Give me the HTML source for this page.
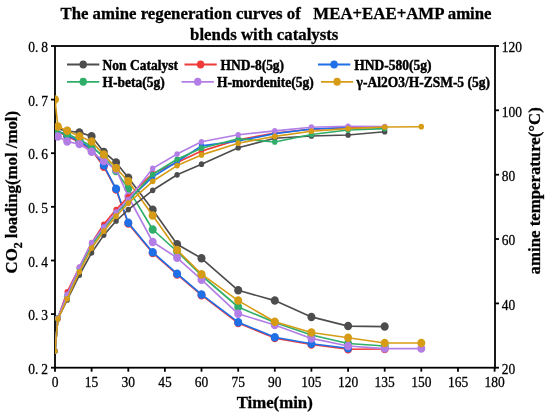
<!DOCTYPE html>
<html><head><meta charset="utf-8"><title>Amine regeneration curves</title>
<style>html,body{margin:0;padding:0;background:#fff;width:550px;height:417px;overflow:hidden}svg{display:block}</style>
</head><body>
<svg width="550" height="417" viewBox="0 0 550 417">
<defs><clipPath id="pc"><rect x="55.0" y="46.0" width="439.6" height="321.7"/></clipPath></defs>
<rect width="550" height="417" fill="#fff"/>
<g stroke="#000" stroke-width="1.8" fill="none">
<rect x="55.0" y="46.0" width="440.0" height="321.7"/>
<line x1="55.0" y1="367.7" x2="55.0" y2="371.7"/>
<line x1="91.6" y1="367.7" x2="91.6" y2="371.7"/>
<line x1="128.3" y1="367.7" x2="128.3" y2="371.7"/>
<line x1="164.9" y1="367.7" x2="164.9" y2="371.7"/>
<line x1="201.5" y1="367.7" x2="201.5" y2="371.7"/>
<line x1="238.2" y1="367.7" x2="238.2" y2="371.7"/>
<line x1="274.8" y1="367.7" x2="274.8" y2="371.7"/>
<line x1="311.4" y1="367.7" x2="311.4" y2="371.7"/>
<line x1="348.1" y1="367.7" x2="348.1" y2="371.7"/>
<line x1="384.7" y1="367.7" x2="384.7" y2="371.7"/>
<line x1="421.3" y1="367.7" x2="421.3" y2="371.7"/>
<line x1="458.0" y1="367.7" x2="458.0" y2="371.7"/>
<line x1="494.6" y1="367.7" x2="494.6" y2="371.7"/>
<line x1="51.0" y1="367.7" x2="55.0" y2="367.7"/>
<line x1="51.0" y1="314.1" x2="55.0" y2="314.1"/>
<line x1="51.0" y1="260.5" x2="55.0" y2="260.5"/>
<line x1="51.0" y1="206.8" x2="55.0" y2="206.8"/>
<line x1="51.0" y1="153.2" x2="55.0" y2="153.2"/>
<line x1="51.0" y1="99.6" x2="55.0" y2="99.6"/>
<line x1="51.0" y1="46.0" x2="55.0" y2="46.0"/>
<line x1="495.0" y1="367.7" x2="499.0" y2="367.7"/>
<line x1="495.0" y1="303.4" x2="499.0" y2="303.4"/>
<line x1="495.0" y1="239.0" x2="499.0" y2="239.0"/>
<line x1="495.0" y1="174.7" x2="499.0" y2="174.7"/>
<line x1="495.0" y1="110.3" x2="499.0" y2="110.3"/>
<line x1="495.0" y1="46.0" x2="499.0" y2="46.0"/>
</g>
<g clip-path="url(#pc)">
<polyline points="55.0,128.5 67.2,131.0 79.4,132.4 91.6,136.2 103.8,152.0 116.1,162.4 128.3,177.8 152.7,209.8 177.1,244.2 201.5,258.3 238.2,290.3 274.8,300.6 311.4,316.9 348.1,326.1 384.7,326.6" fill="none" stroke="#4d4d4d" stroke-width="1.65" stroke-linejoin="round"/>
<ellipse cx="55.0" cy="128.5" rx="4.0" ry="4.24" fill="#4d4d4d"/>
<ellipse cx="67.2" cy="131.0" rx="4.0" ry="4.24" fill="#4d4d4d"/>
<ellipse cx="79.4" cy="132.4" rx="4.0" ry="4.24" fill="#4d4d4d"/>
<ellipse cx="91.6" cy="136.2" rx="4.0" ry="4.24" fill="#4d4d4d"/>
<ellipse cx="103.8" cy="152.0" rx="4.0" ry="4.24" fill="#4d4d4d"/>
<ellipse cx="116.1" cy="162.4" rx="4.0" ry="4.24" fill="#4d4d4d"/>
<ellipse cx="128.3" cy="177.8" rx="4.0" ry="4.24" fill="#4d4d4d"/>
<ellipse cx="152.7" cy="209.8" rx="4.0" ry="4.24" fill="#4d4d4d"/>
<ellipse cx="177.1" cy="244.2" rx="4.0" ry="4.24" fill="#4d4d4d"/>
<ellipse cx="201.5" cy="258.3" rx="4.0" ry="4.24" fill="#4d4d4d"/>
<ellipse cx="238.2" cy="290.3" rx="4.0" ry="4.24" fill="#4d4d4d"/>
<ellipse cx="274.8" cy="300.6" rx="4.0" ry="4.24" fill="#4d4d4d"/>
<ellipse cx="311.4" cy="316.9" rx="4.0" ry="4.24" fill="#4d4d4d"/>
<ellipse cx="348.1" cy="326.1" rx="4.0" ry="4.24" fill="#4d4d4d"/>
<ellipse cx="384.7" cy="326.6" rx="4.0" ry="4.24" fill="#4d4d4d"/>
<polyline points="55.0,130.0 67.2,136.5 79.4,142.0 91.6,150.0 103.8,166.7 116.1,189.6 128.3,223.6 152.7,253.0 177.1,274.5 201.5,295.2 238.2,323.0 274.8,338.1 311.4,344.5 348.1,349.2 384.7,349.0" fill="none" stroke="#f03a3a" stroke-width="1.65" stroke-linejoin="round"/>
<ellipse cx="55.0" cy="130.0" rx="4.0" ry="4.24" fill="#f03a3a"/>
<ellipse cx="67.2" cy="136.5" rx="4.0" ry="4.24" fill="#f03a3a"/>
<ellipse cx="79.4" cy="142.0" rx="4.0" ry="4.24" fill="#f03a3a"/>
<ellipse cx="91.6" cy="150.0" rx="4.0" ry="4.24" fill="#f03a3a"/>
<ellipse cx="103.8" cy="166.7" rx="4.0" ry="4.24" fill="#f03a3a"/>
<ellipse cx="116.1" cy="189.6" rx="4.0" ry="4.24" fill="#f03a3a"/>
<ellipse cx="128.3" cy="223.6" rx="4.0" ry="4.24" fill="#f03a3a"/>
<ellipse cx="152.7" cy="253.0" rx="4.0" ry="4.24" fill="#f03a3a"/>
<ellipse cx="177.1" cy="274.5" rx="4.0" ry="4.24" fill="#f03a3a"/>
<ellipse cx="201.5" cy="295.2" rx="4.0" ry="4.24" fill="#f03a3a"/>
<ellipse cx="238.2" cy="323.0" rx="4.0" ry="4.24" fill="#f03a3a"/>
<ellipse cx="274.8" cy="338.1" rx="4.0" ry="4.24" fill="#f03a3a"/>
<ellipse cx="311.4" cy="344.5" rx="4.0" ry="4.24" fill="#f03a3a"/>
<ellipse cx="348.1" cy="349.2" rx="4.0" ry="4.24" fill="#f03a3a"/>
<ellipse cx="384.7" cy="349.0" rx="4.0" ry="4.24" fill="#f03a3a"/>
<polyline points="55.0,129.5 67.2,135.5 79.4,141.0 91.6,149.0 103.8,165.3 116.1,188.8 128.3,222.8 152.7,252.2 177.1,273.7 201.5,294.4 238.2,322.2 274.8,337.3 311.4,343.7 348.1,348.2" fill="none" stroke="#1f6fe6" stroke-width="1.65" stroke-linejoin="round"/>
<ellipse cx="55.0" cy="129.5" rx="4.0" ry="4.24" fill="#1f6fe6"/>
<ellipse cx="67.2" cy="135.5" rx="4.0" ry="4.24" fill="#1f6fe6"/>
<ellipse cx="79.4" cy="141.0" rx="4.0" ry="4.24" fill="#1f6fe6"/>
<ellipse cx="91.6" cy="149.0" rx="4.0" ry="4.24" fill="#1f6fe6"/>
<ellipse cx="103.8" cy="165.3" rx="4.0" ry="4.24" fill="#1f6fe6"/>
<ellipse cx="116.1" cy="188.8" rx="4.0" ry="4.24" fill="#1f6fe6"/>
<ellipse cx="128.3" cy="222.8" rx="4.0" ry="4.24" fill="#1f6fe6"/>
<ellipse cx="152.7" cy="252.2" rx="4.0" ry="4.24" fill="#1f6fe6"/>
<ellipse cx="177.1" cy="273.7" rx="4.0" ry="4.24" fill="#1f6fe6"/>
<ellipse cx="201.5" cy="294.4" rx="4.0" ry="4.24" fill="#1f6fe6"/>
<ellipse cx="238.2" cy="322.2" rx="4.0" ry="4.24" fill="#1f6fe6"/>
<ellipse cx="274.8" cy="337.3" rx="4.0" ry="4.24" fill="#1f6fe6"/>
<ellipse cx="311.4" cy="343.7" rx="4.0" ry="4.24" fill="#1f6fe6"/>
<ellipse cx="348.1" cy="348.2" rx="4.0" ry="4.24" fill="#1f6fe6"/>
<polyline points="55.0,131.5 67.2,134.0 79.4,139.5 91.6,146.5 103.8,157.0 116.1,171.0 128.3,188.8 152.7,229.5 177.1,251.5 201.5,275.5 238.2,307.0 274.8,322.5 311.4,335.0 348.1,343.5 384.7,346.0" fill="none" stroke="#2eae68" stroke-width="1.65" stroke-linejoin="round"/>
<ellipse cx="55.0" cy="131.5" rx="4.0" ry="4.24" fill="#2eae68"/>
<ellipse cx="67.2" cy="134.0" rx="4.0" ry="4.24" fill="#2eae68"/>
<ellipse cx="79.4" cy="139.5" rx="4.0" ry="4.24" fill="#2eae68"/>
<ellipse cx="91.6" cy="146.5" rx="4.0" ry="4.24" fill="#2eae68"/>
<ellipse cx="103.8" cy="157.0" rx="4.0" ry="4.24" fill="#2eae68"/>
<ellipse cx="116.1" cy="171.0" rx="4.0" ry="4.24" fill="#2eae68"/>
<ellipse cx="128.3" cy="188.8" rx="4.0" ry="4.24" fill="#2eae68"/>
<ellipse cx="152.7" cy="229.5" rx="4.0" ry="4.24" fill="#2eae68"/>
<ellipse cx="177.1" cy="251.5" rx="4.0" ry="4.24" fill="#2eae68"/>
<ellipse cx="201.5" cy="275.5" rx="4.0" ry="4.24" fill="#2eae68"/>
<ellipse cx="238.2" cy="307.0" rx="4.0" ry="4.24" fill="#2eae68"/>
<ellipse cx="274.8" cy="322.5" rx="4.0" ry="4.24" fill="#2eae68"/>
<ellipse cx="311.4" cy="335.0" rx="4.0" ry="4.24" fill="#2eae68"/>
<ellipse cx="348.1" cy="343.5" rx="4.0" ry="4.24" fill="#2eae68"/>
<ellipse cx="384.7" cy="346.0" rx="4.0" ry="4.24" fill="#2eae68"/>
<polyline points="57.9,136.5 67.2,141.6 79.4,144.0 91.6,151.7 103.8,161.0 116.1,169.5 128.3,196.5 152.7,242.0 177.1,257.8 201.5,279.7 238.2,313.8 274.8,325.0 311.4,338.4 348.1,346.0 384.7,348.6 421.3,348.6" fill="none" stroke="#b27ee6" stroke-width="1.65" stroke-linejoin="round"/>
<ellipse cx="57.9" cy="136.5" rx="4.0" ry="4.24" fill="#b27ee6"/>
<ellipse cx="67.2" cy="141.6" rx="4.0" ry="4.24" fill="#b27ee6"/>
<ellipse cx="79.4" cy="144.0" rx="4.0" ry="4.24" fill="#b27ee6"/>
<ellipse cx="91.6" cy="151.7" rx="4.0" ry="4.24" fill="#b27ee6"/>
<ellipse cx="103.8" cy="161.0" rx="4.0" ry="4.24" fill="#b27ee6"/>
<ellipse cx="116.1" cy="169.5" rx="4.0" ry="4.24" fill="#b27ee6"/>
<ellipse cx="128.3" cy="196.5" rx="4.0" ry="4.24" fill="#b27ee6"/>
<ellipse cx="152.7" cy="242.0" rx="4.0" ry="4.24" fill="#b27ee6"/>
<ellipse cx="177.1" cy="257.8" rx="4.0" ry="4.24" fill="#b27ee6"/>
<ellipse cx="201.5" cy="279.7" rx="4.0" ry="4.24" fill="#b27ee6"/>
<ellipse cx="238.2" cy="313.8" rx="4.0" ry="4.24" fill="#b27ee6"/>
<ellipse cx="274.8" cy="325.0" rx="4.0" ry="4.24" fill="#b27ee6"/>
<ellipse cx="311.4" cy="338.4" rx="4.0" ry="4.24" fill="#b27ee6"/>
<ellipse cx="348.1" cy="346.0" rx="4.0" ry="4.24" fill="#b27ee6"/>
<ellipse cx="384.7" cy="348.6" rx="4.0" ry="4.24" fill="#b27ee6"/>
<ellipse cx="421.3" cy="348.6" rx="4.0" ry="4.24" fill="#b27ee6"/>
<polyline points="55.0,99.6 57.9,126.5 67.2,130.7 79.4,136.2 91.6,141.6 103.8,154.6 116.1,168.0 128.3,181.3 152.7,215.5 177.1,250.0 201.5,274.2 238.2,300.6 274.8,321.8 311.4,332.5 348.1,337.7 384.7,343.0 421.3,343.0" fill="none" stroke="#d69c16" stroke-width="1.65" stroke-linejoin="round"/>
<ellipse cx="55.0" cy="99.6" rx="4.0" ry="4.24" fill="#d69c16"/>
<ellipse cx="57.9" cy="126.5" rx="4.0" ry="4.24" fill="#d69c16"/>
<ellipse cx="67.2" cy="130.7" rx="4.0" ry="4.24" fill="#d69c16"/>
<ellipse cx="79.4" cy="136.2" rx="4.0" ry="4.24" fill="#d69c16"/>
<ellipse cx="91.6" cy="141.6" rx="4.0" ry="4.24" fill="#d69c16"/>
<ellipse cx="103.8" cy="154.6" rx="4.0" ry="4.24" fill="#d69c16"/>
<ellipse cx="116.1" cy="168.0" rx="4.0" ry="4.24" fill="#d69c16"/>
<ellipse cx="128.3" cy="181.3" rx="4.0" ry="4.24" fill="#d69c16"/>
<ellipse cx="152.7" cy="215.5" rx="4.0" ry="4.24" fill="#d69c16"/>
<ellipse cx="177.1" cy="250.0" rx="4.0" ry="4.24" fill="#d69c16"/>
<ellipse cx="201.5" cy="274.2" rx="4.0" ry="4.24" fill="#d69c16"/>
<ellipse cx="238.2" cy="300.6" rx="4.0" ry="4.24" fill="#d69c16"/>
<ellipse cx="274.8" cy="321.8" rx="4.0" ry="4.24" fill="#d69c16"/>
<ellipse cx="311.4" cy="332.5" rx="4.0" ry="4.24" fill="#d69c16"/>
<ellipse cx="348.1" cy="337.7" rx="4.0" ry="4.24" fill="#d69c16"/>
<ellipse cx="384.7" cy="343.0" rx="4.0" ry="4.24" fill="#d69c16"/>
<ellipse cx="421.3" cy="343.0" rx="4.0" ry="4.24" fill="#d69c16"/>
<polyline points="55.0,351.0 57.9,319.0 67.2,300.0 79.4,275.1 91.6,252.8 103.8,235.1 116.1,221.0 128.3,209.6 152.7,190.3 177.1,174.8 201.5,164.2 238.2,147.7 274.8,138.2 311.4,136.0 348.1,135.0 384.7,131.7" fill="none" stroke="#4d4d4d" stroke-width="1.65" stroke-linejoin="round"/>
<ellipse cx="55.0" cy="351.0" rx="2.7" ry="2.86" fill="#4d4d4d"/>
<ellipse cx="57.9" cy="319.0" rx="2.7" ry="2.86" fill="#4d4d4d"/>
<ellipse cx="67.2" cy="300.0" rx="2.7" ry="2.86" fill="#4d4d4d"/>
<ellipse cx="79.4" cy="275.1" rx="2.7" ry="2.86" fill="#4d4d4d"/>
<ellipse cx="91.6" cy="252.8" rx="2.7" ry="2.86" fill="#4d4d4d"/>
<ellipse cx="103.8" cy="235.1" rx="2.7" ry="2.86" fill="#4d4d4d"/>
<ellipse cx="116.1" cy="221.0" rx="2.7" ry="2.86" fill="#4d4d4d"/>
<ellipse cx="128.3" cy="209.6" rx="2.7" ry="2.86" fill="#4d4d4d"/>
<ellipse cx="152.7" cy="190.3" rx="2.7" ry="2.86" fill="#4d4d4d"/>
<ellipse cx="177.1" cy="174.8" rx="2.7" ry="2.86" fill="#4d4d4d"/>
<ellipse cx="201.5" cy="164.2" rx="2.7" ry="2.86" fill="#4d4d4d"/>
<ellipse cx="238.2" cy="147.7" rx="2.7" ry="2.86" fill="#4d4d4d"/>
<ellipse cx="274.8" cy="138.2" rx="2.7" ry="2.86" fill="#4d4d4d"/>
<ellipse cx="311.4" cy="136.0" rx="2.7" ry="2.86" fill="#4d4d4d"/>
<ellipse cx="348.1" cy="135.0" rx="2.7" ry="2.86" fill="#4d4d4d"/>
<ellipse cx="384.7" cy="131.7" rx="2.7" ry="2.86" fill="#4d4d4d"/>
<polyline points="55.0,351.0 57.9,318.0 67.2,291.8 79.4,267.3 91.6,242.9 103.8,224.3 116.1,209.5 128.3,196.8 152.7,173.5 177.1,162.5 201.5,151.1 238.2,139.8 274.8,133.0 311.4,129.3 348.1,127.8 384.7,127.5" fill="none" stroke="#f03a3a" stroke-width="1.65" stroke-linejoin="round"/>
<ellipse cx="55.0" cy="351.0" rx="2.7" ry="2.86" fill="#f03a3a"/>
<ellipse cx="57.9" cy="318.0" rx="2.7" ry="2.86" fill="#f03a3a"/>
<ellipse cx="67.2" cy="291.8" rx="2.7" ry="2.86" fill="#f03a3a"/>
<ellipse cx="79.4" cy="267.3" rx="2.7" ry="2.86" fill="#f03a3a"/>
<ellipse cx="91.6" cy="242.9" rx="2.7" ry="2.86" fill="#f03a3a"/>
<ellipse cx="103.8" cy="224.3" rx="2.7" ry="2.86" fill="#f03a3a"/>
<ellipse cx="116.1" cy="209.5" rx="2.7" ry="2.86" fill="#f03a3a"/>
<ellipse cx="128.3" cy="196.8" rx="2.7" ry="2.86" fill="#f03a3a"/>
<ellipse cx="152.7" cy="173.5" rx="2.7" ry="2.86" fill="#f03a3a"/>
<ellipse cx="177.1" cy="162.5" rx="2.7" ry="2.86" fill="#f03a3a"/>
<ellipse cx="201.5" cy="151.1" rx="2.7" ry="2.86" fill="#f03a3a"/>
<ellipse cx="238.2" cy="139.8" rx="2.7" ry="2.86" fill="#f03a3a"/>
<ellipse cx="274.8" cy="133.0" rx="2.7" ry="2.86" fill="#f03a3a"/>
<ellipse cx="311.4" cy="129.3" rx="2.7" ry="2.86" fill="#f03a3a"/>
<ellipse cx="348.1" cy="127.8" rx="2.7" ry="2.86" fill="#f03a3a"/>
<ellipse cx="384.7" cy="127.5" rx="2.7" ry="2.86" fill="#f03a3a"/>
<polyline points="55.0,351.0 57.9,318.0 67.2,295.0 79.4,268.0 91.6,244.0 103.8,227.0 116.1,212.5 128.3,200.0 152.7,176.8 177.1,161.7 201.5,145.9 238.2,141.0 274.8,133.6 311.4,129.0 348.1,127.5" fill="none" stroke="#1f6fe6" stroke-width="1.65" stroke-linejoin="round"/>
<ellipse cx="55.0" cy="351.0" rx="2.7" ry="2.86" fill="#1f6fe6"/>
<ellipse cx="57.9" cy="318.0" rx="2.7" ry="2.86" fill="#1f6fe6"/>
<ellipse cx="67.2" cy="295.0" rx="2.7" ry="2.86" fill="#1f6fe6"/>
<ellipse cx="79.4" cy="268.0" rx="2.7" ry="2.86" fill="#1f6fe6"/>
<ellipse cx="91.6" cy="244.0" rx="2.7" ry="2.86" fill="#1f6fe6"/>
<ellipse cx="103.8" cy="227.0" rx="2.7" ry="2.86" fill="#1f6fe6"/>
<ellipse cx="116.1" cy="212.5" rx="2.7" ry="2.86" fill="#1f6fe6"/>
<ellipse cx="128.3" cy="200.0" rx="2.7" ry="2.86" fill="#1f6fe6"/>
<ellipse cx="152.7" cy="176.8" rx="2.7" ry="2.86" fill="#1f6fe6"/>
<ellipse cx="177.1" cy="161.7" rx="2.7" ry="2.86" fill="#1f6fe6"/>
<ellipse cx="201.5" cy="145.9" rx="2.7" ry="2.86" fill="#1f6fe6"/>
<ellipse cx="238.2" cy="141.0" rx="2.7" ry="2.86" fill="#1f6fe6"/>
<ellipse cx="274.8" cy="133.6" rx="2.7" ry="2.86" fill="#1f6fe6"/>
<ellipse cx="311.4" cy="129.0" rx="2.7" ry="2.86" fill="#1f6fe6"/>
<ellipse cx="348.1" cy="127.5" rx="2.7" ry="2.86" fill="#1f6fe6"/>
<polyline points="55.0,351.0 57.9,318.0 67.2,296.0 79.4,269.0 91.6,245.0 103.8,229.0 116.1,213.5 128.3,201.0 152.7,174.3 177.1,159.3 201.5,148.2 238.2,138.8 274.8,142.0 311.4,134.5 348.1,130.0 384.7,128.6" fill="none" stroke="#2eae68" stroke-width="1.65" stroke-linejoin="round"/>
<ellipse cx="55.0" cy="351.0" rx="2.7" ry="2.86" fill="#2eae68"/>
<ellipse cx="57.9" cy="318.0" rx="2.7" ry="2.86" fill="#2eae68"/>
<ellipse cx="67.2" cy="296.0" rx="2.7" ry="2.86" fill="#2eae68"/>
<ellipse cx="79.4" cy="269.0" rx="2.7" ry="2.86" fill="#2eae68"/>
<ellipse cx="91.6" cy="245.0" rx="2.7" ry="2.86" fill="#2eae68"/>
<ellipse cx="103.8" cy="229.0" rx="2.7" ry="2.86" fill="#2eae68"/>
<ellipse cx="116.1" cy="213.5" rx="2.7" ry="2.86" fill="#2eae68"/>
<ellipse cx="128.3" cy="201.0" rx="2.7" ry="2.86" fill="#2eae68"/>
<ellipse cx="152.7" cy="174.3" rx="2.7" ry="2.86" fill="#2eae68"/>
<ellipse cx="177.1" cy="159.3" rx="2.7" ry="2.86" fill="#2eae68"/>
<ellipse cx="201.5" cy="148.2" rx="2.7" ry="2.86" fill="#2eae68"/>
<ellipse cx="238.2" cy="138.8" rx="2.7" ry="2.86" fill="#2eae68"/>
<ellipse cx="274.8" cy="142.0" rx="2.7" ry="2.86" fill="#2eae68"/>
<ellipse cx="311.4" cy="134.5" rx="2.7" ry="2.86" fill="#2eae68"/>
<ellipse cx="348.1" cy="130.0" rx="2.7" ry="2.86" fill="#2eae68"/>
<ellipse cx="384.7" cy="128.6" rx="2.7" ry="2.86" fill="#2eae68"/>
<polyline points="55.0,351.0 57.9,318.0 67.2,294.5 79.4,267.1 91.6,242.7 103.8,227.0 116.1,212.0 128.3,199.5 152.7,168.4 177.1,154.0 201.5,141.8 238.2,134.8 274.8,130.9 311.4,127.2 348.1,126.3 384.7,126.5" fill="none" stroke="#b27ee6" stroke-width="1.65" stroke-linejoin="round"/>
<ellipse cx="55.0" cy="351.0" rx="2.7" ry="2.86" fill="#b27ee6"/>
<ellipse cx="57.9" cy="318.0" rx="2.7" ry="2.86" fill="#b27ee6"/>
<ellipse cx="67.2" cy="294.5" rx="2.7" ry="2.86" fill="#b27ee6"/>
<ellipse cx="79.4" cy="267.1" rx="2.7" ry="2.86" fill="#b27ee6"/>
<ellipse cx="91.6" cy="242.7" rx="2.7" ry="2.86" fill="#b27ee6"/>
<ellipse cx="103.8" cy="227.0" rx="2.7" ry="2.86" fill="#b27ee6"/>
<ellipse cx="116.1" cy="212.0" rx="2.7" ry="2.86" fill="#b27ee6"/>
<ellipse cx="128.3" cy="199.5" rx="2.7" ry="2.86" fill="#b27ee6"/>
<ellipse cx="152.7" cy="168.4" rx="2.7" ry="2.86" fill="#b27ee6"/>
<ellipse cx="177.1" cy="154.0" rx="2.7" ry="2.86" fill="#b27ee6"/>
<ellipse cx="201.5" cy="141.8" rx="2.7" ry="2.86" fill="#b27ee6"/>
<ellipse cx="238.2" cy="134.8" rx="2.7" ry="2.86" fill="#b27ee6"/>
<ellipse cx="274.8" cy="130.9" rx="2.7" ry="2.86" fill="#b27ee6"/>
<ellipse cx="311.4" cy="127.2" rx="2.7" ry="2.86" fill="#b27ee6"/>
<ellipse cx="348.1" cy="126.3" rx="2.7" ry="2.86" fill="#b27ee6"/>
<ellipse cx="384.7" cy="126.5" rx="2.7" ry="2.86" fill="#b27ee6"/>
<polyline points="55.0,351.0 57.9,318.8 67.2,298.8 79.4,271.8 91.6,248.1 103.8,231.2 116.1,216.2 128.3,203.2 152.7,181.3 177.1,165.6 201.5,154.9 238.2,143.2 274.8,136.4 311.4,131.2 348.1,128.6 384.7,127.0 421.3,126.7" fill="none" stroke="#d69c16" stroke-width="1.65" stroke-linejoin="round"/>
<ellipse cx="55.0" cy="351.0" rx="2.7" ry="2.86" fill="#d69c16"/>
<ellipse cx="57.9" cy="318.8" rx="2.7" ry="2.86" fill="#d69c16"/>
<ellipse cx="67.2" cy="298.8" rx="2.7" ry="2.86" fill="#d69c16"/>
<ellipse cx="79.4" cy="271.8" rx="2.7" ry="2.86" fill="#d69c16"/>
<ellipse cx="91.6" cy="248.1" rx="2.7" ry="2.86" fill="#d69c16"/>
<ellipse cx="103.8" cy="231.2" rx="2.7" ry="2.86" fill="#d69c16"/>
<ellipse cx="116.1" cy="216.2" rx="2.7" ry="2.86" fill="#d69c16"/>
<ellipse cx="128.3" cy="203.2" rx="2.7" ry="2.86" fill="#d69c16"/>
<ellipse cx="152.7" cy="181.3" rx="2.7" ry="2.86" fill="#d69c16"/>
<ellipse cx="177.1" cy="165.6" rx="2.7" ry="2.86" fill="#d69c16"/>
<ellipse cx="201.5" cy="154.9" rx="2.7" ry="2.86" fill="#d69c16"/>
<ellipse cx="238.2" cy="143.2" rx="2.7" ry="2.86" fill="#d69c16"/>
<ellipse cx="274.8" cy="136.4" rx="2.7" ry="2.86" fill="#d69c16"/>
<ellipse cx="311.4" cy="131.2" rx="2.7" ry="2.86" fill="#d69c16"/>
<ellipse cx="348.1" cy="128.6" rx="2.7" ry="2.86" fill="#d69c16"/>
<ellipse cx="384.7" cy="127.0" rx="2.7" ry="2.86" fill="#d69c16"/>
<ellipse cx="421.3" cy="126.7" rx="2.7" ry="2.86" fill="#d69c16"/>
</g>
<g font-family="Liberation Serif, Times New Roman, serif" font-size="13.5" fill="#000" stroke="#000" stroke-width="0.25">
<text transform="translate(55.0,386.8) scale(1,1.15)" text-anchor="middle">0</text>
<text transform="translate(91.6,386.8) scale(1,1.15)" text-anchor="middle">15</text>
<text transform="translate(128.3,386.8) scale(1,1.15)" text-anchor="middle">30</text>
<text transform="translate(164.9,386.8) scale(1,1.15)" text-anchor="middle">45</text>
<text transform="translate(201.5,386.8) scale(1,1.15)" text-anchor="middle">60</text>
<text transform="translate(238.2,386.8) scale(1,1.15)" text-anchor="middle">75</text>
<text transform="translate(274.8,386.8) scale(1,1.15)" text-anchor="middle">90</text>
<text transform="translate(311.4,386.8) scale(1,1.15)" text-anchor="middle">105</text>
<text transform="translate(348.1,386.8) scale(1,1.15)" text-anchor="middle">120</text>
<text transform="translate(384.7,386.8) scale(1,1.15)" text-anchor="middle">135</text>
<text transform="translate(421.3,386.8) scale(1,1.15)" text-anchor="middle">150</text>
<text transform="translate(458.0,386.8) scale(1,1.15)" text-anchor="middle">165</text>
<text transform="translate(494.6,386.8) scale(1,1.15)" text-anchor="middle">180</text>
<text transform="translate(48,373.9) scale(1,1.15)" text-anchor="end">0.<tspan dx="3">2</tspan></text>
<text transform="translate(48,320.3) scale(1,1.15)" text-anchor="end">0.<tspan dx="3">3</tspan></text>
<text transform="translate(48,266.7) scale(1,1.15)" text-anchor="end">0.<tspan dx="3">4</tspan></text>
<text transform="translate(48,213.0) scale(1,1.15)" text-anchor="end">0.<tspan dx="3">5</tspan></text>
<text transform="translate(48,159.4) scale(1,1.15)" text-anchor="end">0.<tspan dx="3">6</tspan></text>
<text transform="translate(48,105.8) scale(1,1.15)" text-anchor="end">0.<tspan dx="3">7</tspan></text>
<text transform="translate(48,52.2) scale(1,1.15)" text-anchor="end">0.<tspan dx="3">8</tspan></text>
<text transform="translate(501.8,373.9) scale(1,1.15)">20</text>
<text transform="translate(501.8,309.6) scale(1,1.15)">40</text>
<text transform="translate(501.8,245.2) scale(1,1.15)">60</text>
<text transform="translate(501.8,180.9) scale(1,1.15)">80</text>
<text transform="translate(501.8,116.5) scale(1,1.15)">100</text>
<text transform="translate(501.8,52.2) scale(1,1.15)">120</text>
</g>
<text x="274.7" y="407.7" text-anchor="middle" font-family="Liberation Serif, Times New Roman, serif" font-weight="bold" stroke="#000" stroke-width="0.3" font-size="16.8">Time(min)</text>
<text transform="translate(16.8,192.2) rotate(-90)" text-anchor="middle" font-family="Liberation Serif, Times New Roman, serif" font-weight="bold" stroke="#000" stroke-width="0.3" font-size="16.8">CO<tspan font-size="11.8" dy="5">2</tspan><tspan dy="-5"> loading(mol /mol)</tspan></text>
<text transform="translate(540.3,190.8) rotate(-90)" text-anchor="middle" font-family="Liberation Serif, Times New Roman, serif" font-weight="bold" stroke="#000" stroke-width="0.3" font-size="16.8">amine temperature(°C)</text>
<text transform="translate(276,18.8) scale(1,1.05)" text-anchor="middle" font-family="Liberation Serif, Times New Roman, serif" font-weight="bold" stroke="#000" stroke-width="0.3" font-size="16.8" xml:space="preserve">The amine regeneration curves of   MEA+EAE+AMP amine</text>
<text transform="translate(264.2,40) scale(1,1.0)" text-anchor="middle" font-family="Liberation Serif, Times New Roman, serif" font-weight="bold" stroke="#000" stroke-width="0.3" font-size="16.8">blends with catalysts</text>
<g font-family="Liberation Serif, Times New Roman, serif" font-weight="bold" font-size="13.5">
<line x1="67.0" y1="64.5" x2="99.3" y2="64.5" stroke="#4d4d4d" stroke-width="1.8"/>
<ellipse cx="83.2" cy="64.5" rx="3.7" ry="4" fill="#4d4d4d"/>
<text transform="translate(102.6,69.6) scale(1,1.12)" stroke="#000" stroke-width="0.4">Non Catalyst</text>
<line x1="184.5" y1="64.5" x2="216.7" y2="64.5" stroke="#f03a3a" stroke-width="1.8"/>
<ellipse cx="200.6" cy="64.5" rx="3.7" ry="4" fill="#f03a3a"/>
<text transform="translate(220.4,69.6) scale(1,1.12)" stroke="#000" stroke-width="0.4">HND-8(5g)</text>
<line x1="318.0" y1="64.5" x2="350.3" y2="64.5" stroke="#1f6fe6" stroke-width="1.8"/>
<ellipse cx="334.1" cy="64.5" rx="3.7" ry="4" fill="#1f6fe6"/>
<text transform="translate(354.2,69.6) scale(1,1.12)" stroke="#000" stroke-width="0.4">HND-580(5g)</text>
<line x1="67.0" y1="81.8" x2="99.3" y2="81.8" stroke="#2eae68" stroke-width="1.8"/>
<ellipse cx="83.2" cy="81.8" rx="3.7" ry="4" fill="#2eae68"/>
<text transform="translate(102.6,86.9) scale(1,1.12)" stroke="#000" stroke-width="0.4">H-beta(5g)</text>
<line x1="181.5" y1="81.8" x2="213.8" y2="81.8" stroke="#b27ee6" stroke-width="1.8"/>
<ellipse cx="197.7" cy="81.8" rx="3.7" ry="4" fill="#b27ee6"/>
<text transform="translate(217.1,86.9) scale(1,1.12)" stroke="#000" stroke-width="0.4">H-mordenite(5g)</text>
<line x1="321.0" y1="81.8" x2="353.2" y2="81.8" stroke="#d69c16" stroke-width="1.8"/>
<ellipse cx="337.1" cy="81.8" rx="3.7" ry="4" fill="#d69c16"/>
<text transform="translate(356.6,86.9) scale(1,1.12)" stroke="#000" stroke-width="0.4">γ-Al2O3/H-ZSM-5 (5g)</text>
</g>
</svg>
</body></html>
